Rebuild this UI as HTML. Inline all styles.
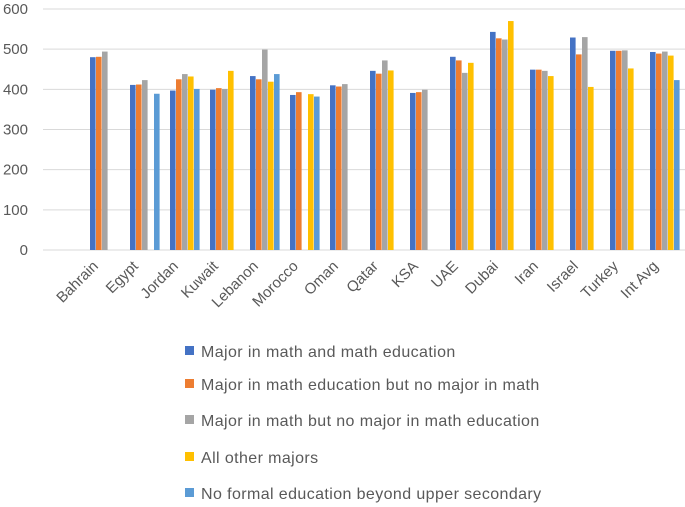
<!DOCTYPE html>
<html><head><meta charset="utf-8"><style>
body{margin:0;background:#fff;}
svg{display:block;font-family:"Liberation Sans",sans-serif;}
</style></head><body>
<svg id="chart" width="685" height="507"></svg>
<script>
const categories=["Bahrain","Egypt","Jordan","Kuwait","Lebanon","Morocco","Oman","Qatar","KSA","UAE","Dubai","Iran","Israel","Turkey","Int Avg"];
const mathAndEdu=[480,411,397,399,433,386,410,446,391,481,543,449,529,496,493];
const eduNoMath=[481,412,425,403,425,393,407,439,393,472,527,449,487,496,489];
const mathNoEdu=[494,423,438,401,499,null,413,472,399,441,524,446,530,497,494];
const otherMajors=[null,null,432,446,419,388,null,447,null,466,570,433,406,452,484];
const noFormal=[null,389,401,null,438,382,null,null,null,null,null,null,null,null,423];
const yTicks=[0,100,200,300,400,500,600];
const seriesNames=["Major in math and math education","Major in math education but no major in math","Major in math but no major in math education","All other majors","No formal education beyond upper secondary"];
const colors=["#4472c4","#ed7d31","#a5a5a5","#ffc000","#5b9bd5"];
const series=[mathAndEdu,eduNoMath,mathNoEdu,otherMajors,noFormal];
const NS="http://www.w3.org/2000/svg";
const svg=document.getElementById("chart");
const y0=250,y600=9;
function yScale(v){return y0-(v/600)*(y0-y600);}
function xGroup(i){return 90+40*i;}
const barW=5.6,barStep=6;
function mk(t,a){const e=document.createElementNS(NS,t);for(const k in a)e.setAttribute(k,a[k]);svg.appendChild(e);return e;}
yTicks.forEach(t=>{
  const g=mk("line",{x1:43,x2:685,y1:yScale(t),y2:yScale(t),stroke:"#d9d9d9","stroke-width":1});
  
  
  const l=mk("text",{x:28,y:yScale(t)+5,"text-anchor":"end","font-size":15,fill:"#595959"});
  l.textContent=t;
  
  
});
series.forEach((s,si)=>{
  s.forEach((v,i)=>{
    if(v==null)return;
    const r=mk("rect",{x:xGroup(i)+si*barStep,y:yScale(v),width:barW,height:y0-yScale(v),fill:colors[si]});
    
    
  });
});
categories.forEach((c,i)=>{
  const cx=xGroup(i)+9,cy=267;
  const t=mk("text",{x:cx,y:cy,"text-anchor":"end","font-size":15,fill:"#595959",transform:`rotate(-45 ${cx} ${cy})`});
  t.textContent=c;
  
  
});
const ly=[352,385,421,458,494];
seriesNames.forEach((n,i)=>{
  const r=mk("rect",{x:185,y:ly[i]-6,width:9,height:9,fill:colors[i]});
  
  
  const t=mk("text",{x:201,y:ly[i]+5,"font-size":16,"letter-spacing":"0.4",fill:"#595959"});
  t.textContent=n;
  
  
});
</script>
</body></html>
